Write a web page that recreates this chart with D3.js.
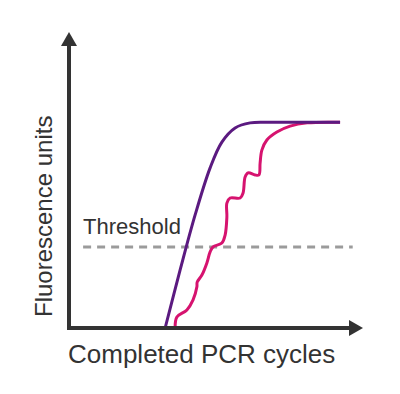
<!DOCTYPE html>
<html>
<head>
<meta charset="utf-8">
<script src="https://cdn.jsdelivr.net/npm/d3@7"></script>
<style>
  body { margin: 0; background: #fff; }
  text { font-family: "Liberation Sans", Arial, sans-serif; fill: #333; }
</style>
</head>
<body>
<svg id="chart" width="400" height="394"></svg>
<script>
// purple: ideal amplification curve (cycle %, fluorescence %)
var idealX = [32.7, 37.8, 42.9, 48.0, 52.0, 56.5, 61.6, 68.4, 92.2];
var idealY = [0, 19.6, 38.2, 54.1, 62.8, 67.6, 69.3, 69.5, 69.5];

// pink: inhibited / noisy curve
var sampleX = [36.1, 36.7, 40.1, 42.2, 43.5, 43.6, 45.2, 46.9, 48.0, 49.0, 52.0, 53.1, 53.7, 53.7, 54.8, 58.2, 59.2, 59.9, 60.9, 63.3, 64.6, 65.0, 65.6, 67.3, 70.7, 75.2, 81.0, 92.2];
var sampleY = [0.3, 3.7, 6.1, 9.5, 13.9, 15.5, 17.9, 22.0, 25.7, 27.4, 28.7, 31.4, 37.5, 42.2, 43.9, 43.9, 45.6, 51.0, 52.4, 51.7, 51.7, 55.7, 60.1, 63.5, 66.2, 68.2, 69.3, 69.5];

var threshold = 27.4;

var svg = d3.select('#chart');

var x = d3.scaleLinear().domain([0, 100]).range([69, 363]);
var y = d3.scaleLinear().domain([0, 100]).range([328, 32]);

var line = d3.line()
    .x(function(d) { return x(d[0]); })
    .y(function(d) { return y(d[1]); })
    .curve(d3.curveCatmullRom.alpha(0.5));

//threshold
svg.append('line')
    .attr('x1', x(4.8))
    .attr('x2', x(96.5))
    .attr('y1', y(threshold))
    .attr('y2', y(threshold))
    .style('stroke', '#9b9b9b')
    .style('stroke-width', 3)
    .style('stroke-dasharray', '8,6');

svg.append('text')
    .attr('x', x(4.8))
    .attr('y', y(threshold) - 13)
    .text('Threshold')
    .style('font-size', '22px');

//curves
svg.append('path')
    .datum(sampleX.map(function(v, i) { return [v, sampleY[i]]; }))
    .attr('d', line)
    .style('fill', 'none')
    .style('stroke', '#d6136f')
    .style('stroke-width', 3);

svg.append('path')
    .datum(idealX.map(function(v, i) { return [v, idealY[i]]; }))
    .attr('d', line)
    .style('fill', 'none')
    .style('stroke', '#5b1a80')
    .style('stroke-width', 3);

//axes
svg.append('path')
    .attr('d', 'M' + x(0) + ' ' + (y(0) + 2) + ' L' + x(0) + ' ' + (y(100) + 10))
    .style('stroke', '#333')
    .style('stroke-width', 4)
    .style('fill', 'none');
svg.append('path')
    .attr('d', 'M' + (x(0) - 2) + ' ' + y(0) + ' L' + (x(100) - 10) + ' ' + y(0))
    .style('stroke', '#333')
    .style('stroke-width', 4)
    .style('fill', 'none');
svg.append('path')
    .attr('d', 'M' + x(0) + ' ' + y(100) + ' L' + (x(0) - 8) + ' ' + (y(100) + 14) + ' L' + (x(0) + 8) + ' ' + (y(100) + 14) + ' Z')
    .style('fill', '#333');
svg.append('path')
    .attr('d', 'M' + x(100) + ' ' + y(0) + ' L' + (x(100) - 14) + ' ' + (y(0) - 8) + ' L' + (x(100) - 14) + ' ' + (y(0) + 8) + ' Z')
    .style('fill', '#333');

//labels
svg.append('text')
    .attr('x', 68)
    .attr('y', 363)
    .text('Completed PCR cycles')
    .style('font-size', '26px');

svg.append('text')
    .attr('transform', 'translate(52,317) rotate(-90)')
    .text('Fluorescence units')
    .style('font-size', '24px');
</script>
</body>
</html>
